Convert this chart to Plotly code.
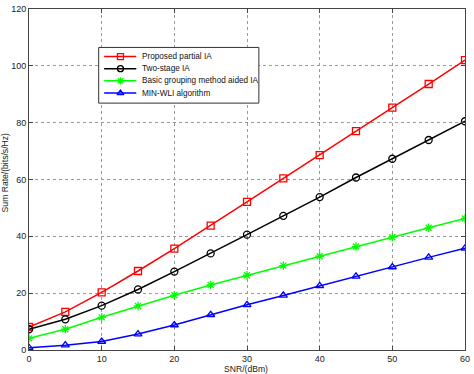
import plotly.graph_objects as go

snr = [0, 5, 10, 15, 20, 25, 30, 35, 40, 45, 50, 55, 60]
proposed = [8.1, 13.4, 20.3, 27.8, 35.7, 43.8, 52.1, 60.4, 68.6, 77.0, 85.3, 93.6, 102.0]
two_stage = [7.3, 10.8, 15.6, 21.3, 27.6, 34.0, 40.6, 47.2, 53.8, 60.7, 67.3, 73.9, 80.5]
basic_grouping = [4.1, 7.3, 11.5, 15.5, 19.3, 22.9, 26.3, 29.7, 33.0, 36.4, 39.7, 43.0, 46.3]
min_wli = [0.8, 1.7, 3.0, 5.6, 8.8, 12.4, 15.9, 19.2, 22.6, 25.9, 29.2, 32.6, 35.8]

names = ["Proposed partial IA", "Two-stage IA", "Basic grouping method aided IA", "MIN-WLI algorithm"]
colors = ["#ff0000", "#000000", "#00ff00", "#0000ff"]
symbols = ["square-open", "circle-open", "asterisk-open", "triangle-up-open"]
x_ticks = [0, 10, 20, 30, 40, 50, 60]
y_ticks = [0, 20, 40, 60, 80, 100, 120]
x_range = [0, 60]
y_range = [0, 120]

# plot area in pixels (for the overlay axes used by the legend box)
L, R, T, B = 29, 470, 4, 350


def px_to_x(px):
    return x_range[0] + (px - L) / (R - L) * (x_range[1] - x_range[0])


def px_to_y(py):
    return y_range[0] + (B - py) / (B - T) * (y_range[1] - y_range[0])


fig = go.Figure()
series = [proposed, two_stage, basic_grouping, min_wli]
for name, ys, c, s in zip(names, series, colors, symbols):
    fig.add_trace(go.Scatter(
        x=snr, y=ys, name=name, mode="lines+markers", showlegend=False,
        line=dict(color=c, width=1.5),
        marker=dict(symbol=s, size=7, color=c, line=dict(color=c, width=1.3)),
    ))

# manual legend (MATLAB-like compact box) drawn on pixel-mapped overlay axes
leg_x0, leg_x1, leg_y0, leg_y1 = 99.5, 261.5, 43, 99.5
row_y = [52.3, 64.5, 76.9, 89.3]
line_x = [105, 137.5]
mark_x = 121.5
text_x = 141
annotations = []
for name, c, s, ry in zip(names, colors, symbols, row_y):
    fig.add_trace(go.Scatter(
        x=line_x, y=[ry, ry], mode="lines", xaxis="x2", yaxis="y2",
        line=dict(color=c, width=1.5), showlegend=False, hoverinfo="skip"))
    fig.add_trace(go.Scatter(
        x=[mark_x], y=[ry], mode="markers", xaxis="x2", yaxis="y2",
        marker=dict(symbol=s, size=6, color=c, line=dict(color=c, width=1.3)),
        showlegend=False, hoverinfo="skip"))
    annotations.append(dict(
        text=name, x=text_x, y=ry, xref="x2", yref="y2", xanchor="left", yanchor="middle",
        showarrow=False, font=dict(family="Liberation Sans, Arial, sans-serif", size=8.2, color="#111111")))

font = dict(family="Liberation Sans, Arial, sans-serif", size=9, color="#1a1a1a")
annotations += [
    dict(text="SNR/(dBm)", xref="paper", yref="paper", x=(248 - L) / (R - L), y=-(369 - B) / (B - T),
         xanchor="center", yanchor="middle", showarrow=False, font=dict(font, size=8.6)),
    dict(text="Sum Rate/(bits/s/Hz)", xref="paper", yref="paper", x=(4.5 - L) / (R - L), y=(B - 170) / (B - T),
         xanchor="center", yanchor="middle", textangle=-90, showarrow=False, font=dict(font, size=8.6)),
]

fig.update_layout(
    width=474, height=374,
    margin=dict(l=L, r=474 - R, t=T, b=374 - B),
    paper_bgcolor="white", plot_bgcolor="white",
    font=font,
    showlegend=False,
    xaxis=dict(
        range=x_range, tickvals=x_ticks, ticks="inside", ticklen=4,
        showline=True, mirror="ticks", linecolor="#444444", linewidth=1,
        showgrid=True, gridcolor="#9a9a9a", griddash="dot", gridwidth=1,
        zeroline=False, tickfont=font, ticklabeloverflow="allow",
    ),
    yaxis=dict(
        range=y_range, tickvals=y_ticks, ticks="inside", ticklen=4,
        showline=True, mirror="ticks", linecolor="#444444", linewidth=1,
        showgrid=True, gridcolor="#9a9a9a", griddash="dot", gridwidth=1,
        zeroline=False, tickfont=font, ticklabeloverflow="allow",
    ),
    xaxis2=dict(overlaying="x", range=[L, R], visible=False, fixedrange=True),
    yaxis2=dict(overlaying="y", range=[B, T], visible=False, fixedrange=True),
    shapes=[dict(type="rect", xref="x", yref="y",
                 x0=px_to_x(leg_x0), x1=px_to_x(leg_x1), y0=px_to_y(leg_y0), y1=px_to_y(leg_y1),
                 line=dict(color="#333333", width=1), fillcolor="white", layer="between")],
    annotations=annotations,
)

fig.write_html("out.html", config={"displayModeBar": False},
               post_script="document.body.style.margin='0';")
